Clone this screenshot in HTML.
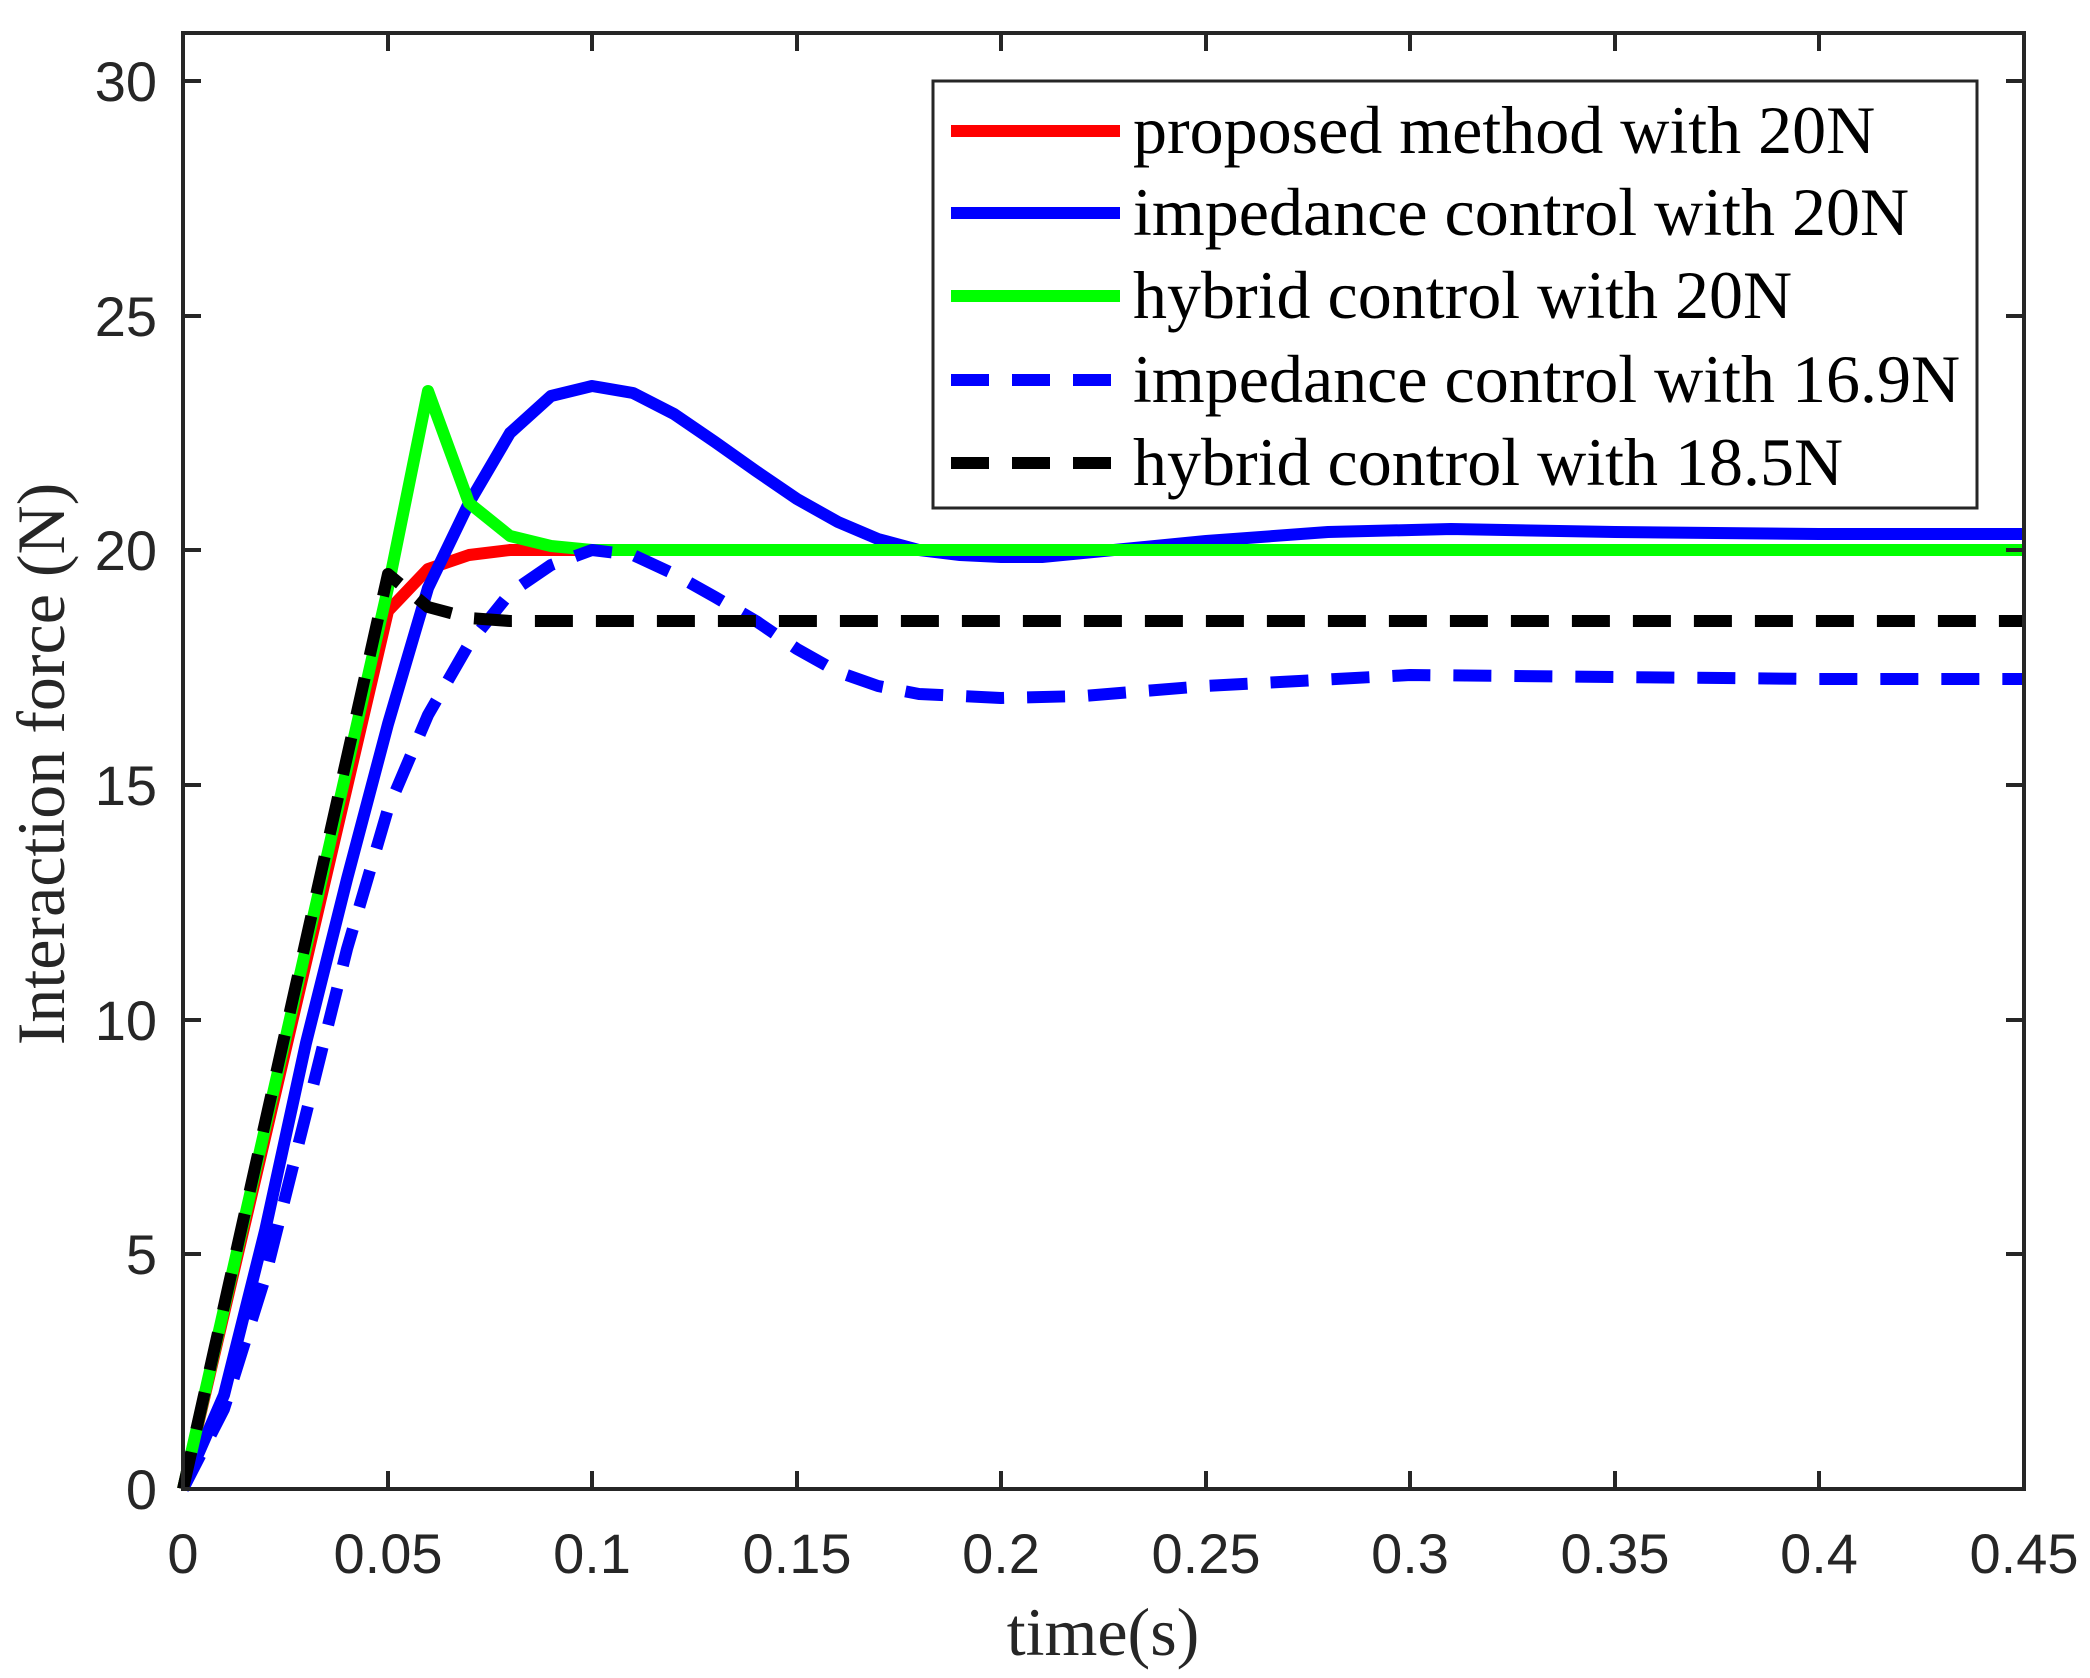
<!DOCTYPE html>
<html><head><style>body{margin:0;background:#fff}svg{display:block}</style></head><body>
<svg width="2090" height="1678" viewBox="0 0 2090 1678" xmlns="http://www.w3.org/2000/svg">
<rect width="2090" height="1678" fill="#fff"/>
<g fill="none" stroke-width="12" stroke-linejoin="round">
<polyline stroke="#ff0000" points="183,1489 388,611 428,569 469,555 510,550 2024,550"/>
<polyline stroke="#0000ff" points="183,1489 224,1395 265,1231 306,1043 347,879 388,724 428,588 469,503 510,433 551,396 592,386 633,393 674,414 715,442 756,471 797,499 838,522 878,539 919,550 960,555 1001,557 1042,557 1083,553 1206,541 1328,532 1451,529 1615,532 1819,534 2024,534"/>
<polyline stroke="#00ff00" points="183,1489 388,588 428,391 469,503 510,536 551,546 592,550 2024,550"/>
<polyline stroke="#0000ff" stroke-dasharray="38,23" points="183,1489 224,1409 265,1278 306,1114 347,949 388,809 428,715 469,644 510,593 551,565 592,550 633,555 674,574 715,597 756,621 797,649 838,672 878,686 919,694 1001,698 1083,696 1206,686 1410,675 1615,677 1819,679 2024,679"/>
<polyline stroke="#000" stroke-dasharray="38,23" points="183,1489 388,574 428,607 469,618 510,621 2024,621"/>
</g>
<g stroke="#262626" stroke-width="4" fill="none">
<rect x="183" y="33" width="1841" height="1456"/>
<path d="M388,1489v-18M592,1489v-18M797,1489v-18M1001,1489v-18M1206,1489v-18M1410,1489v-18M1615,1489v-18M1819,1489v-18
M388,33v18M592,33v18M797,33v18M1001,33v18M1206,33v18M1410,33v18M1615,33v18M1819,33v18
M183,1254h18M183,1020h18M183,785h18M183,550h18M183,316h18M183,81h18
M2024,1254h-18M2024,1020h-18M2024,785h-18M2024,550h-18M2024,316h-18M2024,81h-18"/>
</g>
<g font-family="Liberation Sans, sans-serif" font-size="56" fill="#262626">
<g text-anchor="end">
<text x="157" y="1509">0</text><text x="157" y="1274">5</text><text x="157" y="1040">10</text><text x="157" y="805">15</text><text x="157" y="570">20</text><text x="157" y="336">25</text><text x="157" y="101">30</text>
</g>
<g text-anchor="middle">
<text x="183" y="1573">0</text><text x="388" y="1573">0.05</text><text x="592" y="1573">0.1</text><text x="797" y="1573">0.15</text><text x="1001" y="1573">0.2</text><text x="1206" y="1573">0.25</text><text x="1410" y="1573">0.3</text><text x="1615" y="1573">0.35</text><text x="1819" y="1573">0.4</text><text x="2024" y="1573">0.45</text>
</g>
</g>
<g font-family="Liberation Serif, serif" font-size="68" fill="#262626">
<text x="1103" y="1655" text-anchor="middle">time(s)</text>
<text transform="translate(64,764) rotate(-90)" text-anchor="middle">Interaction force (N)</text>
</g>
<rect x="933" y="81" width="1044" height="427" fill="#fff" stroke="#262626" stroke-width="3"/>
<g stroke-width="12">
<line x1="951" y1="131" x2="1120" y2="131" stroke="#ff0000"/>
<line x1="951" y1="213" x2="1120" y2="213" stroke="#0000ff"/>
<line x1="951" y1="296" x2="1120" y2="296" stroke="#00ff00"/>
<line x1="951" y1="380" x2="1120" y2="380" stroke="#0000ff" stroke-dasharray="38,23"/>
<line x1="951" y1="463" x2="1120" y2="463" stroke="#000" stroke-dasharray="38,23"/>
</g>
<g font-family="Liberation Serif, serif" font-size="68" fill="#000">
<text x="1133" y="153">proposed method with 20N</text>
<text x="1133" y="235">impedance control with 20N</text>
<text x="1133" y="318">hybrid control with 20N</text>
<text x="1133" y="402">impedance control with 16.9N</text>
<text x="1133" y="485">hybrid control with 18.5N</text>
</g>
</svg>
</body></html>
